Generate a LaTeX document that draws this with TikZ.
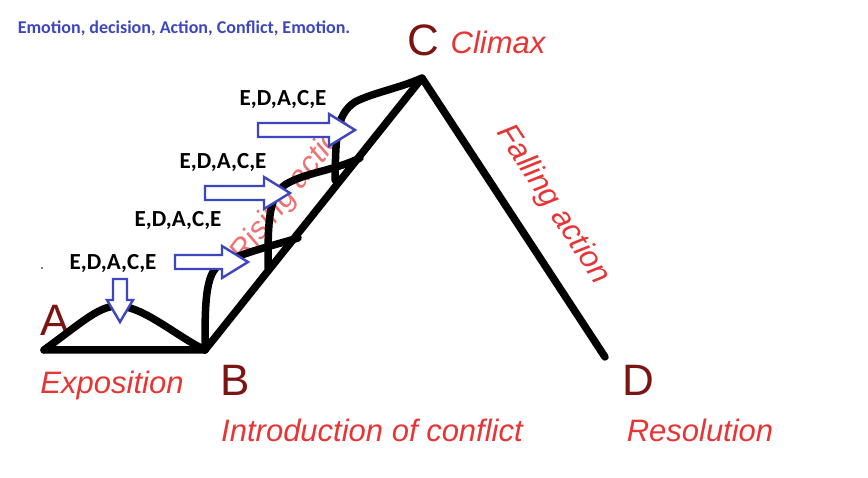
\documentclass[tikz,border=0pt]{standalone}
\usepackage{fontspec}
\setmainfont{Liberation Sans}
\newfontfamily\calfnt{Carlito}
\begin{document}
\begin{tikzpicture}[x=1pt,y=-1pt,
  lbl/.style={text=redl,font=\itshape\fontsize{31}{33}\selectfont,inner sep=0},
  big/.style={text=darkr,font=\fontsize{44}{46}\selectfont,inner sep=0},
  edac/.style={font=\calfnt\bfseries\fontsize{23}{25}\selectfont,inner sep=0},
  thick line/.style={line width=7.5pt,line cap=round,line join=round},
  barrow/.style={draw=arrb,line width=2.4pt,fill=white,line join=miter}]
\definecolor{redl}{RGB}{232,52,52}
\definecolor{darkr}{RGB}{125,20,20}
\definecolor{arrb}{RGB}{60,70,190}
\useasboundingbox (0,0) rectangle (868,478);
\newcommand\harrow[3]{\draw[barrow] (#1,#2) ++(0,-7) -- ++(#3-26,0) -- ++(0,-9) -- ++(26,16) -- ++(-26,16) -- ++(0,-9) -- ++(-#3+26,0) -- cycle;}
% labels
\node[font=\calfnt\bfseries\fontsize{18}{20}\selectfont,text=arrb,inner sep=0] (title) at (184,28) {Emotion, decision, Action, Conflict, Emotion.};
\node[lbl,rotate=52,text=redl!70] (ra) at (292,190) {Rising action};
\node[big] (C) at (423,40) {C};
\node[lbl] (cl) at (498,42) {Climax};
\node[lbl,rotate=-57] (fa) at (553,205) {Falling action};
\node[big] (A) at (55,320) {A};
\node[lbl] (ex) at (112,385) {Exposition};
\node[big] (B) at (235,380) {B};
\node[lbl] (ic) at (372,430) {Introduction of conflict};
\node[big] (D) at (638,380) {D};
\node[lbl] (rs) at (700,430) {Resolution};
\fill (42,268) circle (0.8);
% main lines
\coordinate (pA) at (44,350); \coordinate (pB) at (205,350);
\coordinate (pC) at (422,78); \coordinate (pD) at (605,357);
\draw[thick line] (pA) -- (pB) -- (pC) -- (pD);
\draw[thick line] (pA) .. controls (85,320) and (100,305) .. (120,306) .. controls (145,308) and (175,335) .. (pB);
\draw[thick line] (pB) .. controls (205,300) and (205,268) .. (225,262) .. controls (245,252) and (275,245) .. (298,238);
\draw[thick line] (268,268) .. controls (268,220) and (268,192) .. (290,182) .. controls (310,172) and (335,170) .. (360,158);
\draw[thick line] (335,180) .. controls (336,140) and (335,115) .. (355,102) .. controls (372,93) and (400,88) .. (pC);
% text
\node[edac] (e1) at (113,264) {E,D,A,C,E};
\node[edac] (e2) at (178,221) {E,D,A,C,E};
\node[edac] (e3) at (223,163) {E,D,A,C,E};
\node[edac] (e4) at (283,100) {E,D,A,C,E};
% arrows
\harrow{175}{262}{73}
\harrow{205}{193}{85}
\harrow{258}{130}{97}
\draw[barrow] (113,279) -- (127,279) -- (127,300) -- (133,300) -- (120,322) -- (107,300) -- (113,300) -- cycle;
\end{tikzpicture}
\end{document}
